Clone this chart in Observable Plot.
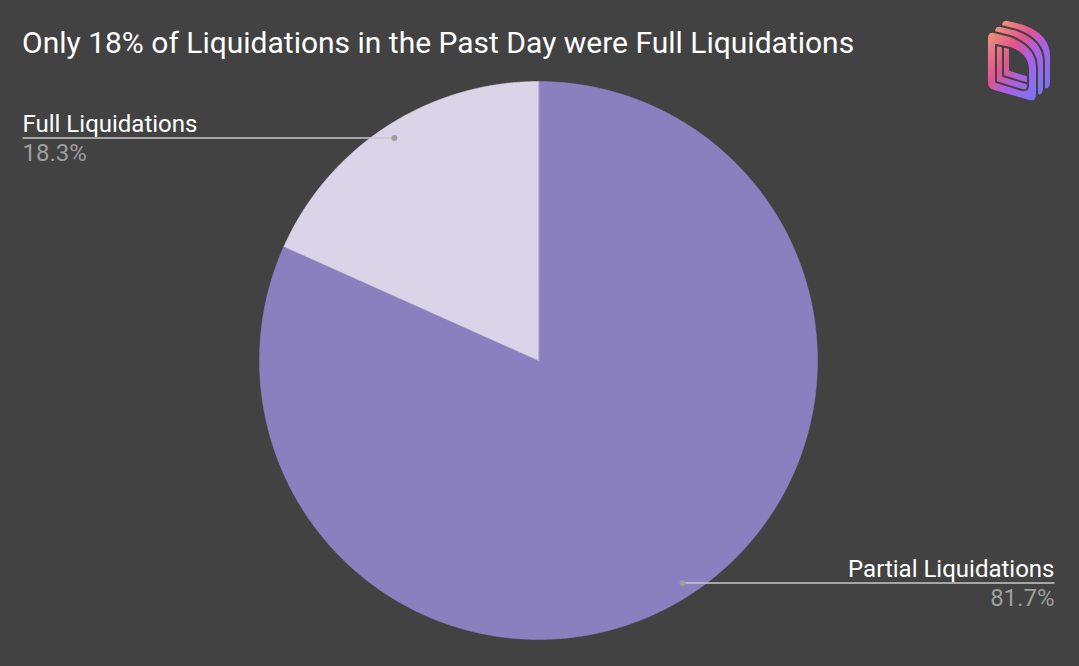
<!DOCTYPE html>
<html>
<head>
<meta charset="utf-8">
<script src="https://cdn.jsdelivr.net/npm/d3@7"></script>
<script src="https://cdn.jsdelivr.net/npm/@observablehq/plot@0.6"></script>
<style>
  html, body { margin: 0; padding: 0; background: #424242; }
  #wrap { position: relative; width: 1079px; height: 666px; overflow: hidden; background: #424242; font-family: Roboto, "Noto Sans", sans-serif; }
  #title { position: absolute; left: 22px; top: 28px; font-size: 30px; line-height: 30px; color: #ffffff; white-space: nowrap; }
  #chart { position: absolute; left: 0; top: 70px; }
  #logo { position: absolute; left: 980px; top: 10px; }
</style>
</head>
<body>
<div id="wrap">
  <div id="title">Only 18% of Liquidations in the Past Day were Full Liquidations</div>
  <svg id="logo" width="90" height="100" viewBox="0 0 90 100">
    <defs>
      <linearGradient id="lg" gradientUnits="userSpaceOnUse" x1="5" y1="10" x2="75" y2="60">
        <stop offset="0" stop-color="#f2aa72"/>
        <stop offset="0.45" stop-color="#e2548c"/>
        <stop offset="0.65" stop-color="#b05ee2"/>
        <stop offset="1" stop-color="#7a74f4"/>
      </linearGradient>
    </defs>
    <g fill="url(#lg)" fill-rule="evenodd" stroke="#424242" stroke-width="2" stroke-linejoin="round">
      <path transform="translate(14,-12)" d="M7,28 Q7,21 14,22 L30,26 Q57,36 57,58 L57,84 Q57,93 49,91 L14,81 Q7,79 7,73 Z M16,35 L16,72 L42,80 Q48,81 48,76 L48,60 Q48,44 30,38 Z" />
      <path transform="translate(7,-6)" d="M7,28 Q7,21 14,22 L30,26 Q57,36 57,58 L57,84 Q57,93 49,91 L14,81 Q7,79 7,73 Z M16,35 L16,72 L42,80 Q48,81 48,76 L48,60 Q48,44 30,38 Z" />
      <path d="M7,28 Q7,21 14,22 L30,26 Q57,36 57,58 L57,84 Q57,93 49,91 L14,81 Q7,79 7,73 Z M16,35 L16,72 L42,80 Q48,81 48,76 L48,60 Q48,44 30,38 Z" />
    </g>
  </svg>
  <div id="chart"></div>
</div>
<script>
// ---- data ----
const categories = ["Partial Liquidations", "Full Liquidations"];
const shares = [81.7, 18.3];
const pctLabels = ["81.7%", "18.3%"];
const sliceColors = ["#8a80bf", "#d9d4e8"];

// ---- layout ----
const W = 1079, H = 596;
const CX = 538, CY = 290, R = 279;
const LEFT_X = 22, RIGHT_X = 1054;

const arcs = d3.pie().sort(null).value(d => d)(shares);

// slice outlines in unit-circle coordinates (angle 0 at 12 o'clock, clockwise)
const slicePts = [];
arcs.forEach((a, i) => {
  const cat = categories[i];
  slicePts.push({cat, x: 0, y: 0});
  const n = Math.max(2, Math.ceil((a.endAngle - a.startAngle) / 0.004));
  for (let k = 0; k <= n; k++) {
    const t = a.startAngle + (a.endAngle - a.startAngle) * k / n;
    slicePts.push({cat, x: Math.sin(t), y: Math.cos(t)});
  }
});

const labels = arcs.map((a, i) => {
  const mid = (a.startAngle + a.endAngle) / 2;
  const px = 0.95 * Math.sin(mid), py = 0.95 * Math.cos(mid);
  const left = px < 0;
  return {
    name: categories[i], pct: pctLabels[i],
    x1: px, y: py,
    x2: ((left ? LEFT_X : RIGHT_X) - CX) / R,
    side: left ? "left" : "right"
  };
});

const plot = Plot.plot({
  width: W, height: H,
  margin: 0,
  style: {background: "transparent", color: "white", fontFamily: "Roboto, 'Noto Sans', sans-serif"},
  x: {domain: [-CX / R, (W - CX) / R], range: [0, W], axis: null},
  y: {domain: [-(H - CY) / R, CY / R], range: [H, 0], axis: null},
  color: {domain: categories, range: sliceColors},
  marks: [
    Plot.line(slicePts, {x: "x", y: "y", z: "cat", fill: "cat", stroke: "cat", strokeWidth: 0.5, curve: "linear-closed"}),
    Plot.link(labels, {x1: "x1", y1: "y", x2: "x2", y2: "y", stroke: "#c8c8c8", strokeWidth: 1.5}),
    Plot.dot(labels, {x: "x1", y: "y", r: 3, fill: "#9e9e9e"}),
    Plot.text(labels, {filter: d => d.side === "left", x: "x2", y: "y", text: "name", textAnchor: "start", dy: -13.7, fontSize: 24, fill: "#ffffff"}),
    Plot.text(labels, {filter: d => d.side === "left", x: "x2", y: "y", text: "pct", textAnchor: "start", dy: 15.3, fontSize: 24, fill: "#9e9e9e"}),
    Plot.text(labels, {filter: d => d.side === "right", x: "x2", y: "y", text: "name", textAnchor: "end", dy: -13.7, fontSize: 24, fill: "#ffffff"}),
    Plot.text(labels, {filter: d => d.side === "right", x: "x2", y: "y", text: "pct", textAnchor: "end", dy: 15.3, fontSize: 24, fill: "#9e9e9e"})
  ]
});
document.getElementById("chart").appendChild(plot);
</script>
</body>
</html>
